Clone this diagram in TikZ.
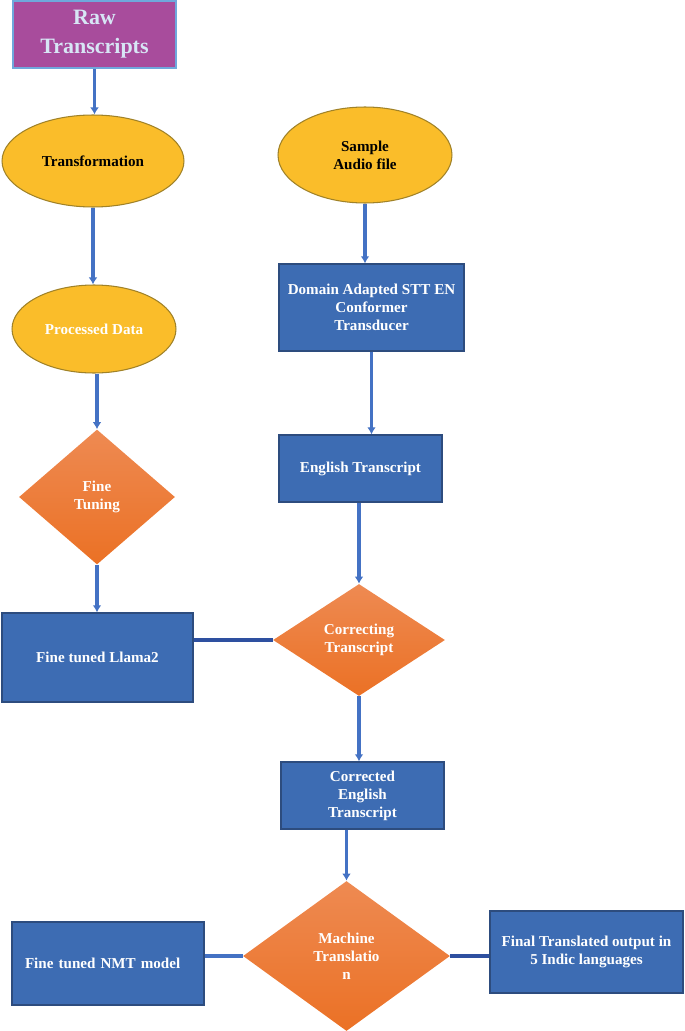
\documentclass[tikz,border=0pt]{standalone}
\usepackage{fontspec}
\setmainfont{Liberation Serif}
\usepackage{xcolor}
\usetikzlibrary{arrows.meta,positioning,shapes.geometric}

\definecolor{rawfill}{HTML}{A84C9C}
\definecolor{rawline}{HTML}{6FA8DC}
\definecolor{rawtext}{HTML}{D7E6F5}
\definecolor{ovalfill}{HTML}{FABD2A}
\definecolor{ovalline}{HTML}{A08228}
\definecolor{dtop}{HTML}{EE8A52}
\definecolor{dbot}{HTML}{EB7125}
\definecolor{stagefill}{HTML}{3D6CB3}
\definecolor{stageline}{HTML}{2D4C7E}
\definecolor{linkblue}{HTML}{4472C4}
\definecolor{linkdark}{HTML}{2E50A0}

\begin{document}
\begin{tikzpicture}[
					x=0.02cm, y=-0.02cm,
					font=\fontsize{8.6}{10.2}\selectfont\bfseries,
					>={Latex[length=4pt,width=5pt]},
					rawbox/.style={
						rectangle, draw=rawline, line width=1pt, fill=rawfill,
						text=rawtext, align=center, inner sep=0pt,
						font=\fontsize{12.5}{16.4}\selectfont\bfseries
					},
					oval/.style={
						ellipse, draw=ovalline, line width=0.6pt,
						fill=ovalfill, align=center, inner sep=0pt
					},
					decision/.style={
						diamond, top color=dtop, bottom color=dbot,
						text=white, align=center, inner sep=0pt
					},
					stage/.style={
						rectangle, draw=stageline, line width=0.8pt,
						fill=stagefill, text=white, align=center, inner sep=0pt
					},
					arr/.style={->, line width=1.9pt, linkblue},
					bar/.style={line width=2.4pt, linkdark},
					thinbar/.style={line width=2pt, linkblue}
					]
					\useasboundingbox (0,0) rectangle (685,1031);
					%% ─── LEFT COLUMN: TRANSCRIPT PREPARATION ─────────────────────────────
					\node[rawbox, minimum width=3.26cm, minimum height=1.34cm] (raw) at (94.5,34.5) {Raw\\Transcripts};
					\node[oval, minimum width=3.64cm, minimum height=1.84cm] (trans) at (93,161) {Transformation};
					\node[oval, text=white, minimum width=3.28cm, minimum height=1.76cm] (proc) at (94,329) {Processed Data};
					\node[decision, minimum width=3.12cm, minimum height=2.70cm] (tune) at (97,497) {Fine\\Tuning};
					\node[stage, minimum width=3.82cm, minimum height=1.78cm] (llama) at (97.5,657.5) {Fine tuned Llama2};
					
					\draw[arr] (raw.south) -- (raw.south |- trans.north);
					\draw[arr] (trans.south) -- (trans.south |- proc.north);
					\draw[arr] (tune.north |- proc.south) -- (tune.north);
					\draw[arr] (tune.south) -- (tune.south |- llama.north);
					
					%% ─── RIGHT COLUMN: SPEECH TO TEXT ────────────────────────────────────
					\node[oval, minimum width=3.48cm, minimum height=1.92cm] (audio) at (365,155) {Sample\\Audio file};
					\node[stage, minimum width=3.70cm, minimum height=1.74cm] (stt) at (371.5,307.5)
					{Domain Adapted STT EN\\Conformer\\Transducer};
					\node[stage, minimum width=3.26cm, minimum height=1.34cm] (eng) at (360.5,468.5) {English Transcript};
					\node[decision, minimum width=3.44cm, minimum height=2.24cm] (corr) at (359,640) {Correcting\\Transcript};
					\node[stage, minimum width=3.26cm, minimum height=1.34cm] (cet) at (362.5,795.5)
					{Corrected\\English\\Transcript};
					
					\draw[arr] (audio.south) -- (audio.south |- stt.north);
					\draw[arr] (stt.south) -- (stt.south |- eng.north);
					\draw[arr] (corr.north |- eng.south) -- (corr.north);
					\draw[arr] (corr.south) -- (corr.south |- cet.north);
					\draw[bar] (corr.west) -- (corr.west -| llama.east);
					
					%% ─── BOTTOM ROW: TRANSLATION ─────────────────────────────────────────
					\node[decision, minimum width=4.14cm, minimum height=3.00cm] (mt) at (346.5,956) {Machine\\Translatio\\n};
					\node[stage, align=left, text width=3.32cm, inner xsep=0.26cm, minimum height=1.66cm] (nmt) at (108,963.5)
					{Fine tuned NMT model};
					\node[stage, minimum width=3.86cm, minimum height=1.64cm] (final) at (586.5,952)
					{Final Translated output in\\5 Indic languages};
					
					\draw[arr] (mt.north |- cet.south) -- (mt.north);
					\draw[thinbar] (mt.west) -- (mt.west -| nmt.east);
					\draw[bar] (mt.east) -- (mt.east -| final.west);
				\end{tikzpicture}
\end{document}
